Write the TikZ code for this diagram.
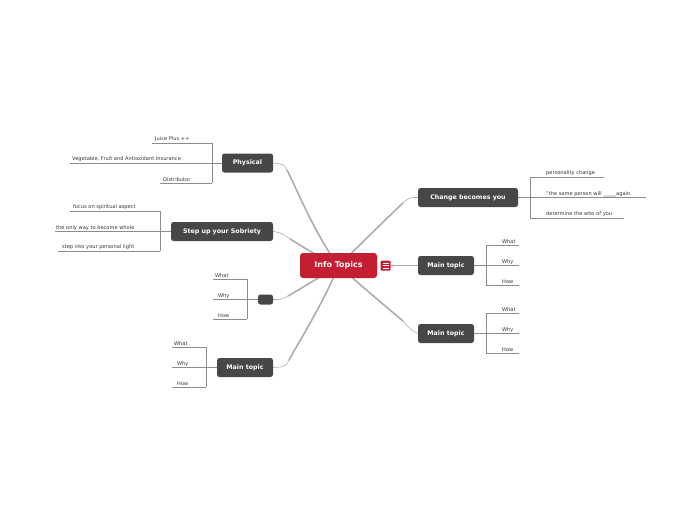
\documentclass[tikz,border=0pt]{standalone}
\usepackage{fontspec}
\setmainfont{DejaVu Sans}
\pgfdeclarelayer{bg}
\pgfsetlayers{bg,main}
\begin{document}
\begin{tikzpicture}[x=1pt,y=-1pt,
 topic/.style={fill=black!72,rounded corners=2.5pt,text=white,font=\fontsize{6.3}{7}\selectfont\bfseries,inner sep=0pt,minimum height=19pt},
 sub/.style={font=\fontsize{5.1}{5.5}\selectfont,text=black!80,anchor=south west,inner sep=1pt},
 br/.style={draw=black!45,line width=0.5pt},
 con/.style={draw=black!32,line width=1.6pt},
 thin/.style={draw=black!32,line width=0.6pt}]
\useasboundingbox (0,0) rectangle (697,520);
\node[fill={rgb,255:red,196;green,30;blue,51},rounded corners=3pt,text=white,font=\fontsize{8}{9}\selectfont\bfseries,minimum width=77pt,minimum height=25pt,inner sep=0pt] (root) at (338.5,265.5) {Info Topics};
\node[fill={rgb,255:red,196;green,30;blue,51},rounded corners=1pt,minimum size=10pt,inner sep=0pt] (ic) at (385.5,265.5) {};
\draw[white,line width=0.5pt] (382.5,263)--(388.5,263) (382.5,265.5)--(388.5,265.5) (382.5,268)--(388.5,268);
% topics
\node[topic,minimum width=51pt] (phy) at (247.5,163) {Physical};
\node[topic,minimum width=102pt] (sob) at (222,231.5) {Step up your Sobriety};
\node[topic,minimum width=15pt,minimum height=10pt] (emp) at (265.5,299.5) {};
\node[topic,minimum width=56pt] (mtl) at (245,367.5) {Main topic};
\node[topic,minimum width=100pt] (chg) at (468,197.5) {Change becomes you};
\node[topic,minimum width=56pt] (mr1) at (446,265.5) {Main topic};
\node[topic,minimum width=56pt] (mr2) at (446,333.5) {Main topic};
% connectors
\begin{pgfonlayer}{bg}
\draw[con] (root.center) .. controls (315,235) and (295,185) .. (287,170);
\draw[thin] (287,170) .. controls (283,164) .. (phy.east);
\draw[con] (root.center) .. controls (320,258) and (300,245) .. (290,239);
\draw[thin] (290,239) .. controls (282,233) .. (sob.east);
\draw[con] (root.center) .. controls (315,280) and (295,292) .. (288,296);
\draw[thin] (288,296) .. controls (282,299.5) .. (emp.east);
\draw[con] (root.center) .. controls (325,300) and (300,340) .. (289,360);
\draw[thin] (289,360) .. controls (285,367) .. (mtl.east);
\draw[con] (root.center) .. controls (360,245) and (390,215) .. (403,203);
\draw[thin] (403,203) .. controls (409,197.5) .. (chg.west);
\draw[thin] (ic.east) -- (mr1.west);
\draw[con] (root.center) .. controls (360,285) and (390,310) .. (403,321);
\draw[thin] (403,321) .. controls (410,329) .. (mr2.west);
\end{pgfonlayer}
% left subtopics
\draw[br] (phy.west)--(212,163) (212,143)--(212,183) (152,143)--(212,143) (70,163)--(212,163) (160,183)--(212,183);
\node[sub] (p1) at (154,143) {Juice Plus ++};
\node[sub] (p2) at (71,163) {Vegetable, Fruit and Antioxidant Insurance};
\node[sub] (p3) at (162,183) {Distributor};
\draw[br] (sob.west)--(160,231.5) (160,211)--(160,251) (70,211)--(160,211) (55,231.5)--(160,231.5) (58,251)--(160,251);
\node[sub] (s1) at (72,211) {focus on spiritual aspect};
\node[sub] (s2) at (55,231.5) {the only way to become whole};
\node[sub] (s3) at (61,251) {step into your personal light};
\draw[br] (emp.west)--(247,299.5) (247,279)--(247,319) (213,279)--(247,279) (213,299.5)--(247,299.5) (213,319)--(247,319);
\node[sub] (e1) at (214,279) {What};
\node[sub] (e2) at (217,299.5) {Why};
\node[sub] (e3) at (217,319) {How};
\draw[br] (mtl.west)--(206,367.5) (206,347)--(206,387) (172,347)--(206,347) (172,367.5)--(206,367.5) (172,387)--(206,387);
\node[sub] (l1) at (173,347) {What};
\node[sub] (l2) at (176,367.5) {Why};
\node[sub] (l3) at (176,387) {How};
% right subtopics
\draw[br] (chg.east)--(530,197.5) (530,177)--(530,218) (530,177)--(604,177) (530,197.5)--(646,197.5) (530,218)--(624,218);
\node[sub] (c1) at (545,177) {personality change};
\node[sub] (c2) at (545,197.5) {"the same person will \_\_\_\_\_again.};
\node[sub] (c3) at (545,218) {determine the who of you};
\draw[br] (mr1.east)--(486,265.5) (486,245)--(486,285) (486,245)--(519,245) (486,265.5)--(519,265.5) (486,285)--(519,285);
\node[sub] (r1) at (501,245) {What};
\node[sub] (r2) at (501,265.5) {Why};
\node[sub] (r3) at (501,285) {How};
\draw[br] (mr2.east)--(486,333.5) (486,313)--(486,353) (486,313)--(519,313) (486,333.5)--(519,333.5) (486,353)--(519,353);
\node[sub] (q1) at (501,313) {What};
\node[sub] (q2) at (501,333.5) {Why};
\node[sub] (q3) at (501,353) {How};
\end{tikzpicture}
\end{document}
